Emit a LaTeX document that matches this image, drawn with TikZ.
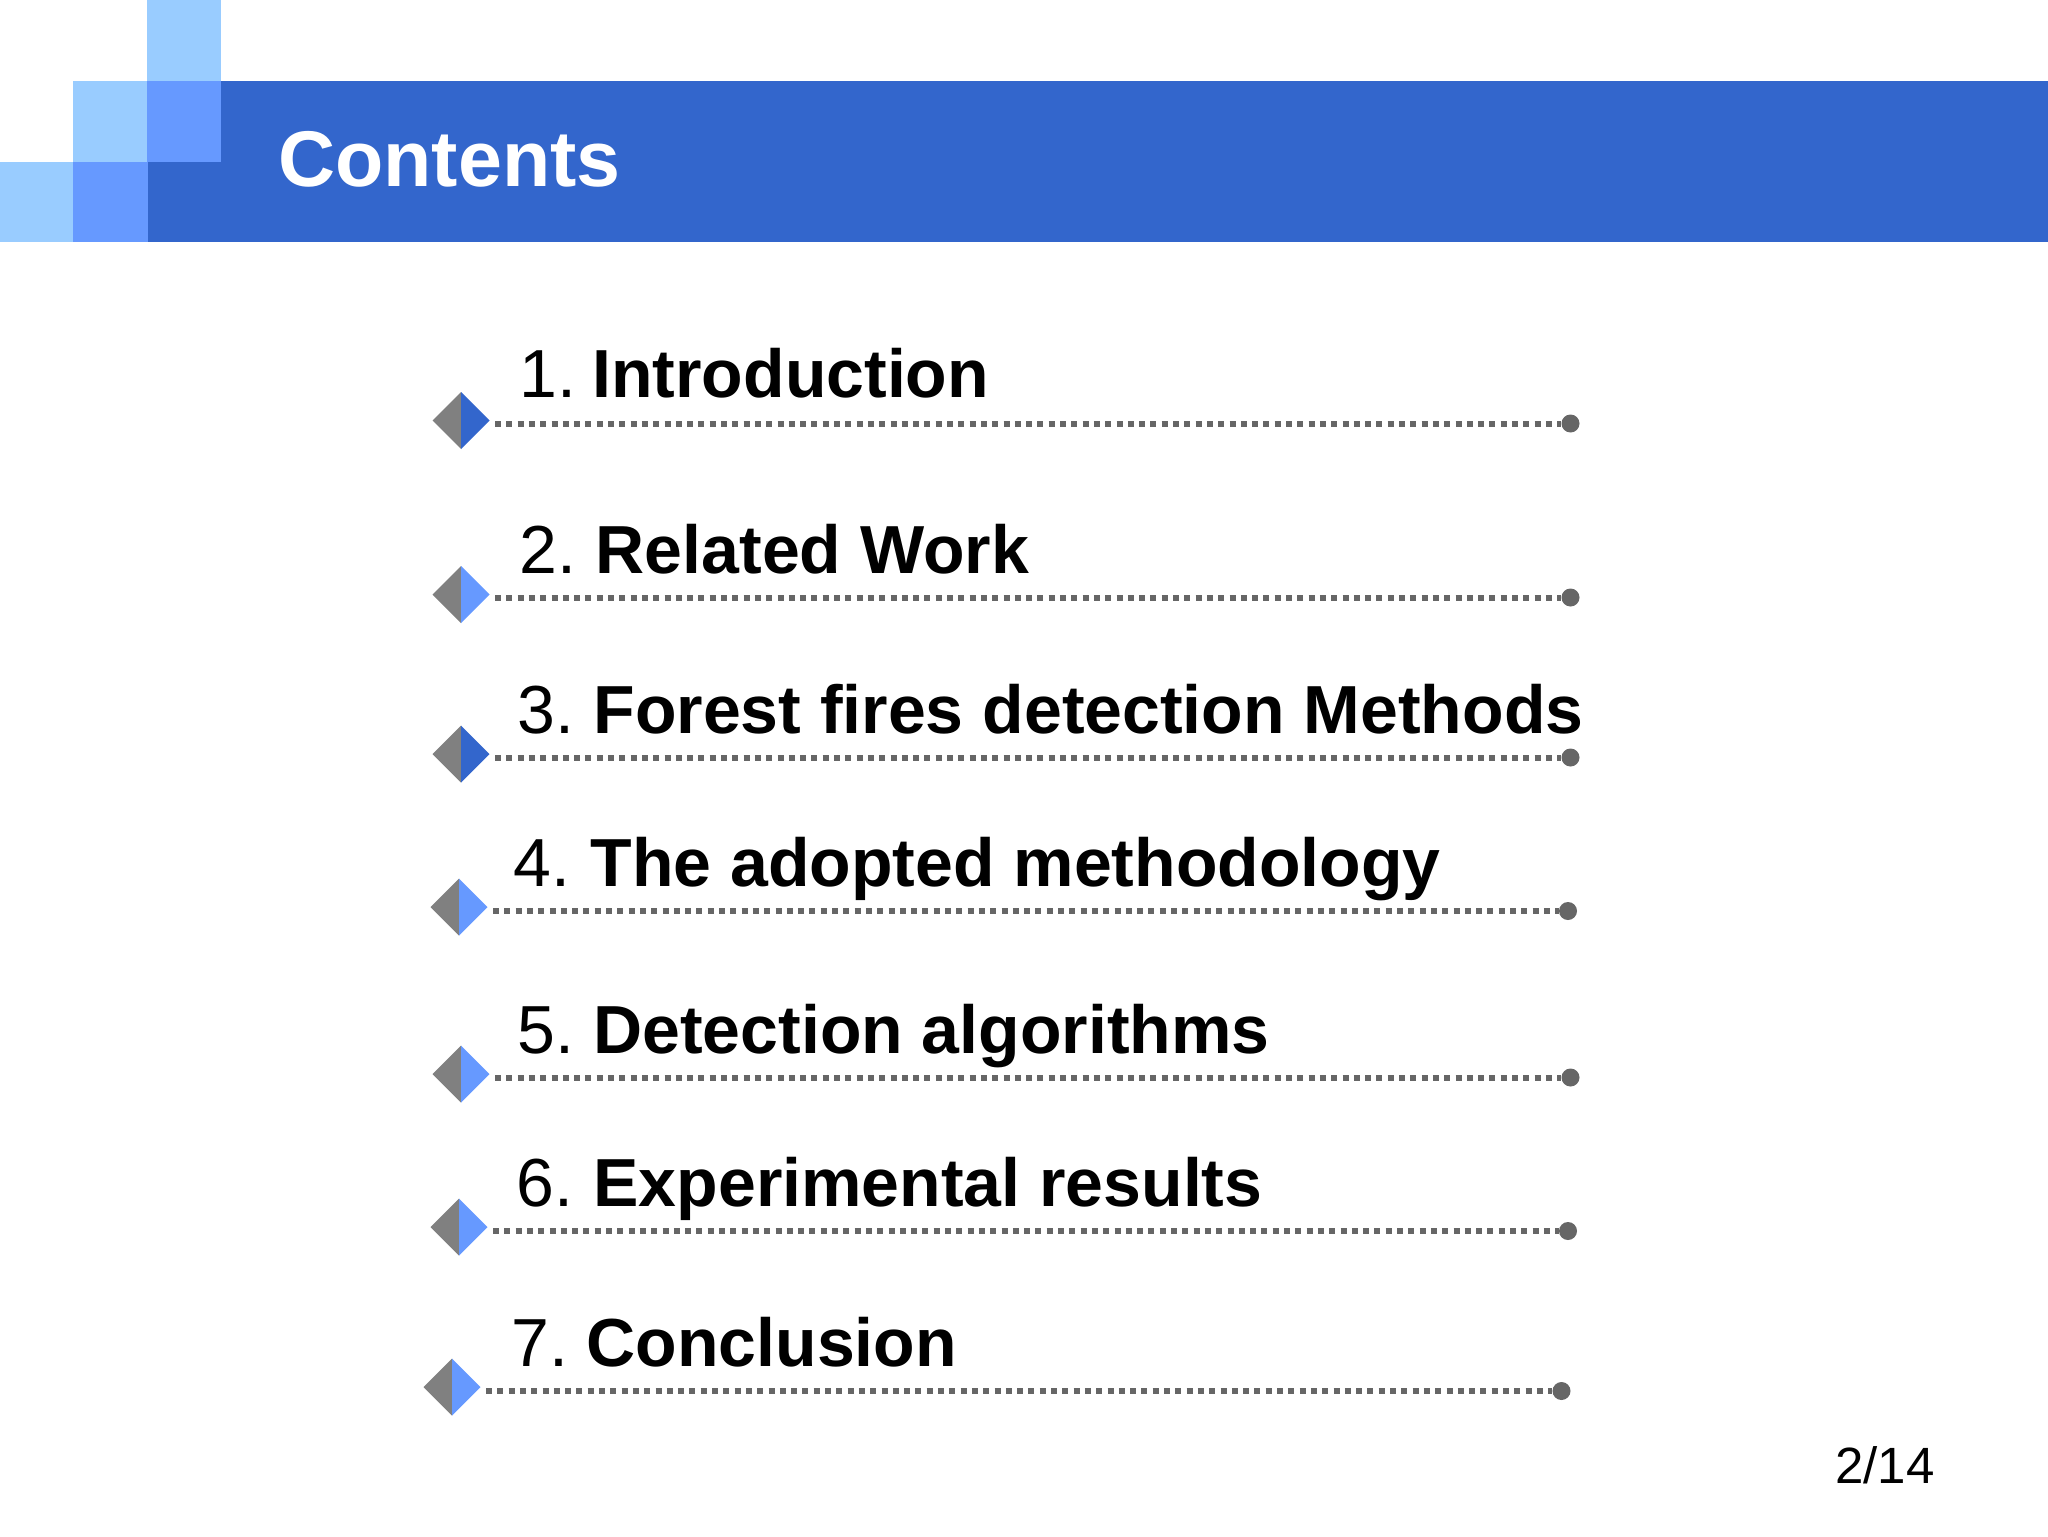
\documentclass[tikz,border=0pt]{standalone}
\usepackage{fontspec}
\setmainfont{Liberation Sans}
\definecolor{darkblue}{HTML}{3366CC}
\definecolor{midblue}{HTML}{6699FF}
\definecolor{lightblue}{HTML}{99CCFF}
\definecolor{diamondgrey}{HTML}{808080}
\definecolor{dotgrey}{HTML}{666666}
\tikzset{
  x=0.5pt,y=-0.5pt,
  dotline/.style={draw=dotgrey,line width=3pt,dash pattern=on 3pt off 2.65pt},
  enddot/.style={circle,fill=dotgrey,inner sep=0pt,minimum size=9pt},
  rowlabel/.style={anchor=base west,inner sep=0pt,text=black,font=\fontsize{34}{40}\selectfont},
  titlelabel/.style={anchor=base west,inner sep=0pt,text=white,font=\fontsize{39.5}{48}\selectfont\bfseries},
  pagelabel/.style={anchor=base east,inner sep=0pt,text=black,font=\fontsize{25.5}{30}\selectfont},
}
\begin{document}
\begin{tikzpicture}
\useasboundingbox (0,0) rectangle (2048,1536);
\fill[white] (0,0) rectangle (2048,1536);
% header
\fill[darkblue] (148,81) rectangle (2048,241.5);
\fill[lightblue] (147,0) rectangle (221,81);
\fill[lightblue] (73,81) rectangle (147,162);
\fill[midblue] (147,81) rectangle (221,162);
\fill[lightblue] (0,162) rectangle (73,241.5);
\fill[midblue] (73,162) rectangle (148,241.5);
\node[titlelabel] (title) at (278,186) {Contents};
% rows: diamond cx, diamond cy, line y, end x, text x, baseline, colour, number, gap, title
\foreach \i/\cx/\cy/\ly/\ex/\tx/\by/\col/\num/\gap/\txt in {
  1/461/420.5/423.5/1570.5/519.5/397.5/darkblue/1./-4.7/Introduction,
  2/461/594.5/597.5/1570.5/519.5/573.5/midblue/2./-3/Related Work,
  3/461/754/757.5/1570.5/517/733/darkblue/3./-2.9/Forest fires detection Methods,
  4/459/907/911/1568/513/886.5/midblue/4./-2.4/The adopted methodology,
  5/461/1074/1077.5/1570.5/517/1053/midblue/5./-3/Detection algorithms,
  6/459/1227/1231/1568/516/1206/midblue/6./-2.4/Experimental results,
  7/452/1387/1391/1561.5/511/1366/midblue/7./-3.3/Conclusion}{
  \coordinate (d\i) at (\cx,\cy);
  \fill[diamondgrey] (\cx,\cy-28.5) -- (\cx-28.5,\cy) -- (\cx,\cy+28.5) -- cycle;
  \fill[\col] (\cx,\cy-28.5) -- (\cx+28.5,\cy) -- (\cx,\cy+28.5) -- cycle;
  \node[enddot] (e\i) at (\ex,\ly) {};
  \coordinate (s\i) at (\cx+34,\ly);
  \draw[dotline] (s\i) -- (e\i);
  \node[rowlabel] (t\i) at (\tx,\by) {\num{} \hspace{\gap pt}\textbf{\txt}};
}
\node[pagelabel] (page) at (1935,1483.5) {2/14};
\end{tikzpicture}
\end{document}
